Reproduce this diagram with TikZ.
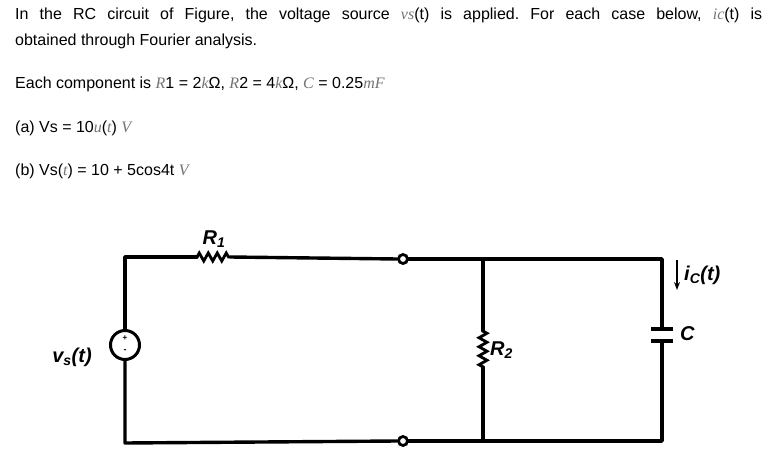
\documentclass[tikz,border=0pt]{standalone}
\usepackage{fontspec}
\setmainfont{Liberation Sans}
\usetikzlibrary{decorations.pathmorphing,arrows.meta}
\frenchspacing
\newcommand{\mv}[1]{{\color{black!55}\fontspec{Liberation Serif}\itshape #1}}
\tikzset{
  wire/.style={line width=3.4pt,line cap=round,line join=round},
  txt/.style={anchor=west,inner sep=0pt,font=\fontsize{16}{18}\selectfont},
  lbl/.style={inner sep=0pt,font=\fontsize{20}{22}\selectfont\bfseries\itshape},
  zig/.style={decorate,decoration={zigzag,segment length=9pt,amplitude=4pt},line width=2.8pt},
  term/.style={circle,draw,line width=2.8pt,fill=white,minimum size=9pt,inner sep=0pt}
}
\begin{document}
\begin{tikzpicture}[x=1pt,y=-1pt]
\useasboundingbox (0,0) rectangle (775,462);
\node[txt] (p1) at (15,15) {\makebox[747pt][s]{In the RC circuit of Figure, the voltage source \mv{vs}(t) is applied. For each case below, \mv{ic}(t) is}};
\node[txt] (p1b) at (15,41) {obtained through Fourier analysis.};
\node[txt] (p2) at (15,84) {Each component is \mv{R}1 = 2\mv{k}Ω, \mv{R}2 = 4\mv{k}Ω, \mv{C} = 0.25\mv{mF}};
\node[txt] (p3) at (15,128) {(a) Vs = 10\mv{u}(\mv{t}) \mv{V}};
\node[txt] (p4) at (15,171) {(b) Vs(\mv{t}) = 10 + 5cos4t \mv{V}};
\coordinate (tl) at (125,257);
\coordinate (bl) at (125,443);
\coordinate (r1a) at (197,257);
\coordinate (r1b) at (230,257);
\node[term] (ta) at (403,259) {};
\node[term] (tb) at (403,441) {};
\coordinate (m2t) at (483,259);
\coordinate (m2b) at (483,441);
\coordinate (r2a) at (483,331);
\coordinate (r2b) at (483,367);
\coordinate (rt) at (662,259);
\coordinate (rb) at (662,441);
\coordinate (c1) at (662,329);
\coordinate (c2) at (662,341);
\node[circle,draw,line width=3pt,minimum size=29pt,inner sep=0pt] (src) at (125,345) {};
\node[font=\fontsize{8}{8}\selectfont\bfseries,inner sep=0pt] (plus) at (125,338) {+};
\node[font=\fontsize{9}{9}\selectfont\bfseries,inner sep=0pt] (minus) at (125,351) {-};
\draw[wire] (src.north) -- (tl) -- (r1a);
\draw[zig] (r1a) -- (r1b);
\draw[wire] (r1b) -- (ta.west);
\draw[wire] (ta.east) -- (rt) -- (c1);
\draw[wire] (src.south) -- (bl) -- (tb.west);
\draw[wire] (tb.east) -- (rb) -- (c2);
\draw[wire] (m2t) -- (r2a);
\draw[zig] (r2a) -- (r2b);
\draw[wire] (r2b) -- (m2b);
\draw[line width=3.2pt] (651,329) -- (673,329);
\draw[line width=3.2pt] (651,341) -- (673,341);
\coordinate (ar1) at (677,260);
\coordinate (ar2) at (677,290);
\draw[line width=1.4pt,-{Stealth[length=8pt,width=6pt]}] (ar1) -- (ar2);
\node[lbl,anchor=west] (icl) at (684,275) {i\textsubscript{\fontsize{14}{14}\selectfont C}(t)};
\node[lbl,anchor=west] (cl) at (680,334) {C};
\node[lbl] (r1l) at (214,239) {R\textsubscript{1}};
\node[lbl,anchor=west] (r2l) at (490,350) {R\textsubscript{2}};
\node[lbl] (vsl) at (72,357) {v\textsubscript{s}(t)};
\end{tikzpicture}
\end{document}
